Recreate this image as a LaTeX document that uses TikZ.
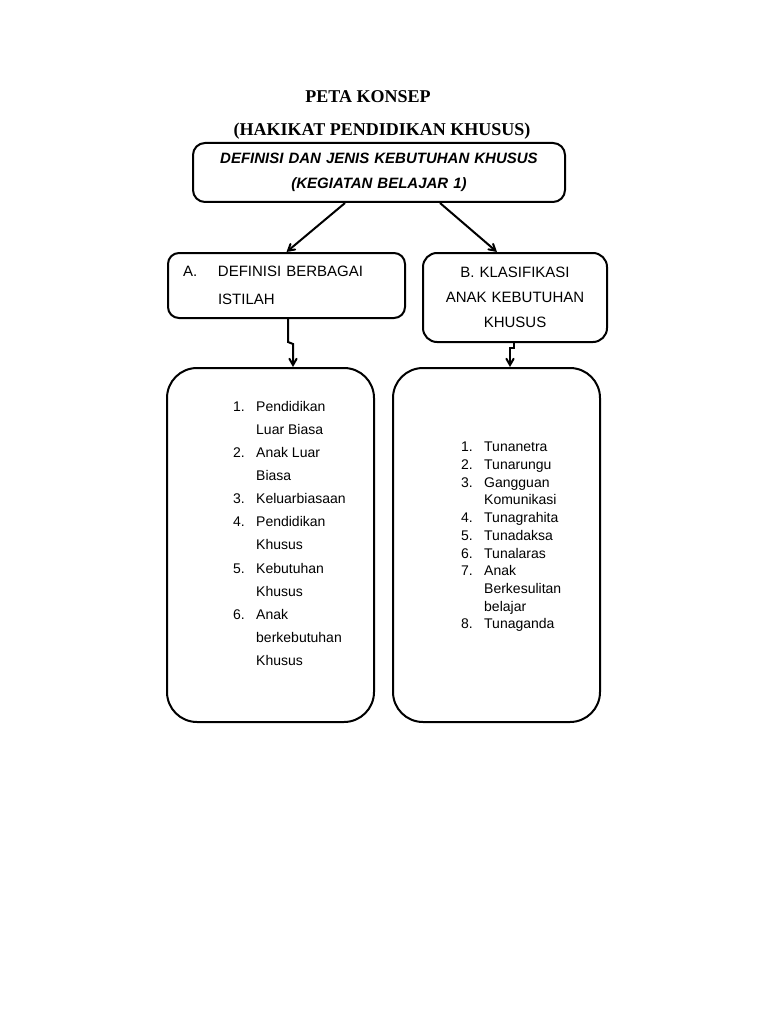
\documentclass[tikz,border=0pt]{standalone}
\usepackage{fontspec}
\setmainfont{Liberation Serif}
\setsansfont{Liberation Sans}
\usepackage{tikz}
\usetikzlibrary{shapes.geometric, arrows, positioning}
\tikzstyle{judul} = [inner sep=0pt, font=\rmfamily\bfseries\fontsize{18}{20}\selectfont]
\tikzstyle{utama} = [rectangle, rounded corners=12pt, draw=black, line width=2pt, minimum width=372pt, minimum height=59pt, text width=352pt, align=center, font=\sffamily\bfseries\itshape\fontsize{15}{25}\selectfont]
\tikzstyle{bagian} = [rectangle, rounded corners=11pt, draw=black, line width=2pt, font=\sffamily\fontsize{15}{28}\selectfont]
\tikzstyle{wadah} = [rectangle, rounded corners=30pt, draw=black, line width=2pt, minimum width=207pt, minimum height=354pt]
\tikzstyle{daftar} = [inner sep=0pt, align=left, anchor=north west]
\tikzstyle{arrow} = [line width=2pt,->,>=angle 60]

\begin{document}
\begin{tikzpicture}[x=1pt, y=-1pt, node distance=34pt]
\useasboundingbox (0,0) rectangle (768,1024);

\node [judul] (judul) at (368,97) {PETA KONSEP};
\node [judul, below of=judul, xshift=14pt] (subjudul) {(HAKIKAT PENDIDIKAN KHUSUS)};

\node [utama] (kb) at (379,172.5) {DEFINISI DAN JENIS KEBUTUHAN KHUSUS\\(KEGIATAN BELAJAR 1)};

\node [bagian, minimum width=237pt, minimum height=65pt, inner xsep=15pt, text width=207pt, align=left] (defA) at (286.5,285.5)
  {\makebox[35pt][l]{A.}DEFINISI BERBAGAI\\\hspace*{35pt}ISTILAH};
\node [bagian, rounded corners=14pt, minimum width=184pt, minimum height=89pt, text width=172pt, align=center, font=\sffamily\fontsize{15}{25}\selectfont] (klasB) at (515,297.5)
  {B. KLASIFIKASI\\ANAK KEBUTUHAN\\KHUSUS};

\node [wadah] (istilah) at (270.5,545) {};
\node [wadah] (jenis) at (496.5,545) {};

\node [daftar, font=\sffamily\fontsize{14}{23.1}\selectfont] (listA) at ([xshift=67pt,yshift=-34pt]istilah.north west)
  {\makebox[23pt][l]{1.}Pendidikan\\\hspace*{23pt}Luar Biasa\\
   \makebox[23pt][l]{2.}Anak Luar\\\hspace*{23pt}Biasa\\
   \makebox[23pt][l]{3.}Keluarbiasaan\\
   \makebox[23pt][l]{4.}Pendidikan\\\hspace*{23pt}Khusus\\
   \makebox[23pt][l]{5.}Kebutuhan\\\hspace*{23pt}Khusus\\
   \makebox[23pt][l]{6.}Anak\\\hspace*{23pt}berkebutuhan\\\hspace*{23pt}Khusus};
\node [daftar, font=\sffamily\fontsize{14}{17.7}\selectfont] (listB) at ([xshift=69pt,yshift=-75pt]jenis.north west)
  {\makebox[23pt][l]{1.}Tunanetra\\
   \makebox[23pt][l]{2.}Tunarungu\\
   \makebox[23pt][l]{3.}Gangguan\\\hspace*{23pt}Komunikasi\\
   \makebox[23pt][l]{4.}Tunagrahita\\
   \makebox[23pt][l]{5.}Tunadaksa\\
   \makebox[23pt][l]{6.}Tunalaras\\
   \makebox[23pt][l]{7.}Anak\\\hspace*{23pt}Berkesulitan\\\hspace*{23pt}belajar\\
   \makebox[23pt][l]{8.}Tunaganda};

\draw [arrow] ([xshift=-34pt]kb.south) -- (defA.north);
\draw [arrow] ([xshift=61pt]kb.south) -- ([xshift=-18pt]klasB.north);
\draw [arrow] ([xshift=1.5pt]defA.south) -- ++(0,23) -- ++(5,2) -- ([xshift=22.5pt]istilah.north);
\draw [arrow] ([xshift=-1pt]klasB.south) -- ++(0,5) -- ++(-4,0) -- ([xshift=13.5pt]jenis.north);

\end{tikzpicture}
\end{document}
